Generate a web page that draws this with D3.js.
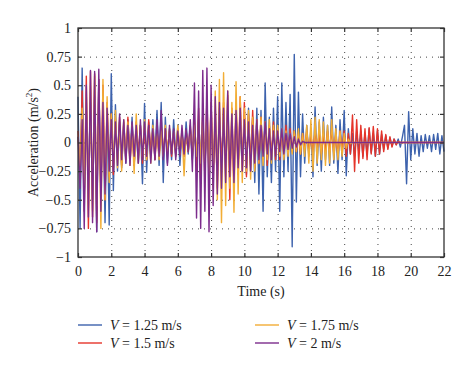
<!DOCTYPE html>
<html>
<head>
<meta charset="utf-8">
<script src="https://cdn.jsdelivr.net/npm/d3@7"></script>
<style>
  body { margin: 0; background: #fff; }
  svg { display: block; }
</style>
</head>
<body>
<div id="chart"></div>
<script>
'use strict';

// sample spacing of every series (s); series keep at 0 until tEnd
const step = 0.125;
const tEnd = 22;

const xTicks = [0, 2, 4, 6, 8, 10, 12, 14, 16, 18, 20, 22];
const yTicks = [-1, -0.75, -0.5, -0.25, 0, 0.25, 0.5, 0.75, 1];
const yTickLabels = ['\u22121', '\u22120.75', '\u22120.5', '\u22120.25', '0', '0.25', '0.5', '0.75', '1'];

const speeds = ['1.25', '1.5', '1.75', '2'];
const colors = ['#3d62ad', '#e5342a', '#f2ad35', '#7c2c8c'];

// one line per second (8 samples)
const v125 = [
    0.40, -0.75, 0.65, -0.45, 0.25, -0.30, 0.35, -0.50,
    0.40, -0.78, 0.55, -0.40, 0.35, -0.70, 0.30, -0.72,
    0.60, -0.42, 0.33, -0.25, 0.18, -0.22, 0.15, -0.18,
    0.20, -0.15, 0.22, -0.20, 0.12, -0.18, 0.15, -0.36,
    0.34, -0.26, 0.18, -0.12, 0.20, -0.15, 0.28, -0.20,
    0.35, -0.35, 0.22, -0.18, 0.12, -0.15, 0.20, -0.12,
    0.15, -0.20, 0.10, -0.12, 0.18, -0.10, 0.12, -0.15,
    0.10, -0.14, 0.20, -0.15, 0.12, -0.18, 0.10, -0.12,
    0.15, -0.12, 0.10, -0.18, 0.22, -0.15, 0.12, -0.20,
    0.18, -0.25, 0.15, -0.20, 0.25, -0.18, 0.12, -0.22,
    0.20, -0.28, 0.30, -0.25, 0.22, -0.35, 0.30, -0.45,
    0.28, -0.60, 0.52, -0.30, 0.22, -0.35, 0.30, -0.25,
    0.40, -0.60, 0.52, -0.30, 0.35, -0.25, 0.42, -0.91,
    0.77, -0.52, 0.44, -0.30, 0.25, -0.18, 0.15, -0.12,
    0.12, -0.30, 0.31, -0.20, 0.18, -0.25, 0.22, -0.15,
    0.15, -0.20, 0.31, -0.18, 0.15, -0.27, 0.20, -0.15,
    0.28, -0.29, 0.12, -0.10, 0.08, -0.12, 0.10, -0.08,
    0.10, -0.12, 0.08, -0.10, 0.12, -0.09, 0.08, -0.12,
    0.10, -0.10, 0.07, -0.06, 0.06, -0.05, 0.04, -0.03,
    0.03, -0.02, 0.03, -0.04, 0.05, 0.15, -0.36, 0.27,
    -0.15, 0.12, -0.10, 0.08, -0.12, 0.06, -0.08, 0.07,
    -0.05, 0.06, -0.08, 0.07, -0.06, 0.08, -0.10, 0.06,
    -0.08
];

const v150 = [
    0.10, -0.30, 0.45, -0.60, 0.58, -0.75, 0.62, -0.65,
    0.60, -0.70, 0.55, -0.45, 0.50, -0.50, 0.35, -0.30,
    0.25, -0.28, 0.20, -0.15, 0.22, -0.20, 0.18, -0.15,
    0.22, -0.18, 0.15, -0.20, 0.18, -0.12, 0.15, -0.18,
    0.12, -0.15, 0.20, -0.10, 0.12, -0.15, 0.10, -0.12,
    0.15, -0.10, 0.12, -0.08, 0.10, -0.12, 0.08, -0.10,
    0.12, -0.10, 0.08, -0.12, 0.10, -0.08, 0.15, -0.12,
    0.20, -0.25, 0.30, -0.35, 0.25, -0.30, 0.40, -0.35,
    0.35, -0.30, 0.25, -0.40, 0.30, -0.25, 0.35, -0.30,
    0.41, -0.50, 0.30, -0.40, 0.35, -0.28, 0.40, -0.25,
    0.35, -0.30, 0.25, -0.20, 0.28, -0.22, 0.20, -0.18,
    0.22, -0.15, 0.18, -0.20, 0.15, -0.12, 0.18, -0.15,
    0.12, -0.15, 0.10, -0.12, 0.15, -0.10, 0.12, -0.08,
    0.10, -0.08, 0.06, -0.10, 0.08, -0.06, 0.10, -0.08,
    0.06, -0.08, 0.10, -0.06, 0.08, -0.10, 0.06, -0.08,
    0.10, -0.08, 0.12, -0.10, 0.08, -0.12, 0.10, -0.08,
    0.10, -0.12, 0.08, -0.10, 0.24, -0.25, 0.20, -0.18,
    0.15, -0.14, 0.12, -0.15, 0.13, -0.10, 0.14, -0.12,
    0.12, -0.10, 0.10, -0.08, 0.07, -0.06, 0.05, -0.04,
    0.03, -0.02, 0.01, 0
];

const v175 = [
    0.05, -0.20, 0.30, -0.45, 0.40, -0.55, 0.50, -0.60,
    0.58, -0.55, 0.45, -0.75, 0.55, -0.50, 0.40, -0.35,
    0.25, -0.20, 0.28, -0.22, 0.18, -0.25, 0.20, -0.15,
    0.18, -0.20, 0.15, -0.27, 0.25, -0.18, 0.15, -0.12,
    0.20, -0.15, 0.12, -0.18, 0.15, -0.10, 0.12, -0.15,
    0.10, -0.12, 0.15, -0.10, 0.12, -0.08, 0.10, -0.12,
    0.15, -0.10, 0.12, -0.29, 0.10, -0.08, 0.12, -0.10,
    0.15, -0.12, 0.20, -0.18, 0.25, -0.22, 0.30, -0.28,
    0.35, -0.40, 0.45, -0.50, 0.55, -0.70, 0.61, -0.55,
    0.45, -0.40, 0.35, -0.61, 0.53, -0.45, 0.40, -0.35,
    0.30, -0.25, 0.28, -0.32, 0.22, -0.25, 0.20, -0.18,
    0.22, -0.20, 0.18, -0.15, 0.20, -0.18, 0.15, -0.12,
    0.15, -0.12, 0.12, -0.15, 0.10, -0.12, 0.08, -0.10,
    0.10, -0.08, 0.12, -0.10, 0.08, -0.12, 0.15, -0.18,
    0.20, -0.25, 0.22, -0.18, 0.20, -0.15, 0.18, -0.20,
    0.15, -0.18, 0.20, -0.15, 0.12, -0.15, 0.10, -0.12,
    0.08, -0.05, 0.03, -0.01, 0
];

const v200 = [
    0.05, -0.40, 0.20, -0.75, 0.50, -0.65, 0.63, -0.70,
    0.62, -0.78, 0.64, -0.60, 0.35, -0.45, 0.30, -0.25,
    0.20, -0.25, 0.18, -0.20, 0.25, -0.15, 0.20, -0.18,
    0.15, -0.20, 0.18, -0.12, 0.15, -0.18, 0.20, -0.15,
    0.18, -0.12, 0.15, -0.18, 0.12, -0.15, 0.20, -0.12,
    0.28, -0.15, 0.12, -0.20, 0.15, -0.10, 0.12, -0.15,
    0.10, -0.12, 0.15, -0.10, 0.12, -0.08, 0.20, -0.25,
    0.52, -0.66, 0.45, -0.75, 0.63, -0.60, 0.65, -0.78,
    0.50, -0.55, 0.40, -0.45, 0.35, -0.40, 0.30, -0.35,
    0.45, -0.30, 0.25, -0.35, 0.28, -0.22, 0.30, -0.25,
    0.20, -0.22, 0.18, -0.25, 0.15, -0.18, 0.20, -0.15,
    0.15, -0.12, 0.18, -0.10, 0.12, -0.15, 0.10, -0.12,
    0.10, -0.08, 0.12, -0.10, 0.08, -0.06, 0.08, -0.05,
    0.05, -0.04, 0.03, -0.02, 0.01, 0
];

const series = [v125, v150, v175, v200];

const width = 474;
const height = 370;
const margin = {top: 28, right: 30, bottom: 113, left: 78};

const svg = d3.select('#chart')
      .append('svg')
      .attr('width', width)
      .attr('height', height);

const x = d3.scaleLinear()
      .domain([0, 22])
      .range([margin.left, width - margin.right]);
const y = d3.scaleLinear()
      .domain([-1, 1])
      .range([height - margin.bottom, margin.top]);

const font = 'Liberation Serif, Times New Roman, serif';

// dotted grid
const grid = svg.append('g')
      .attr('stroke', '#444')
      .attr('stroke-width', 1)
      .attr('stroke-dasharray', '1,5');

grid.selectAll('line.gx')
    .data(xTicks.slice(1, -1))
    .join('line')
    .attr('class', 'gx')
    .attr('x1', d => x(d) + 0.5)
    .attr('x2', d => x(d) + 0.5)
    .attr('y1', y(1))
    .attr('y2', y(-1));

grid.selectAll('line.gy')
    .data(yTicks.slice(1, -1))
    .join('line')
    .attr('class', 'gy')
    .attr('y1', d => y(d) + 0.5)
    .attr('y2', d => y(d) + 0.5)
    .attr('x1', x(0))
    .attr('x2', x(22));

// signals, drawn in legend order so purple sits on top
const line = d3.line()
      .x(d => x(d[0]))
      .y(d => y(d[1]));

const plot = svg.append('g')
      .attr('fill', 'none')
      .attr('stroke-width', 1.4)
      .attr('stroke-linejoin', 'round');

series.forEach((values, k) => {
    const points = values.map((v, i) => [i * step, v]);
    const last = points[points.length - 1];
    if (last[0] < tEnd) points.push([tEnd, 0]);
    plot.append('path')
        .datum(points)
        .attr('stroke', colors[k])
        .attr('d', line);
});

// frame and axes, ticks pointing inward
svg.append('rect')
    .attr('x', x(0))
    .attr('y', y(1))
    .attr('width', x(22) - x(0))
    .attr('height', y(-1) - y(1))
    .attr('fill', 'none')
    .attr('stroke', '#333')
    .attr('stroke-width', 1.3);

const styleAxis = g => {
    g.select('.domain').remove();
    g.selectAll('.tick line').attr('stroke', '#333').attr('stroke-width', 1.2);
    g.selectAll('.tick text').attr('fill', '#222').style('font', '14px ' + font);
};

svg.append('g')
    .attr('transform', `translate(0,${y(-1)})`)
    .call(d3.axisBottom(x).tickValues(xTicks).tickSizeInner(-4).tickSizeOuter(0).tickPadding(9))
    .call(styleAxis);

svg.append('g')
    .attr('transform', `translate(0,${y(1)})`)
    .call(d3.axisTop(x).tickValues(xTicks).tickSizeInner(-4).tickSizeOuter(0).tickFormat(''))
    .call(styleAxis);

svg.append('g')
    .attr('transform', `translate(${x(0)},0)`)
    .call(d3.axisLeft(y).tickValues(yTicks).tickSizeInner(-4).tickSizeOuter(0).tickPadding(7)
          .tickFormat((d, i) => yTickLabels[i]))
    .call(styleAxis);

svg.append('g')
    .attr('transform', `translate(${x(22)},0)`)
    .call(d3.axisRight(y).tickValues(yTicks).tickSizeInner(-4).tickSizeOuter(0).tickFormat(''))
    .call(styleAxis);

// axis titles
svg.append('text')
    .attr('x', (x(0) + x(22)) / 2)
    .attr('y', 296)
    .attr('text-anchor', 'middle')
    .attr('fill', '#222')
    .style('font', '14px ' + font)
    .text('Time (s)');

const ylab = svg.append('text')
      .attr('transform', `translate(38,${(y(1) + y(-1)) / 2}) rotate(-90)`)
      .attr('text-anchor', 'middle')
      .attr('fill', '#222')
      .style('font', '14px ' + font);
ylab.append('tspan').text('Acceleration (m/s');
ylab.append('tspan').attr('font-size', '9px').attr('dy', -6).text('2');
ylab.append('tspan').attr('dy', 6).text(')');

// legend, two columns
const legend = svg.append('g')
      .selectAll('g')
      .data(speeds)
      .join('g')
      .attr('transform', (d, i) => `translate(${i < 2 ? 78 : 255},${i % 2 ? 343 : 325})`);

legend.append('line')
    .attr('x1', 0)
    .attr('x2', 24)
    .attr('stroke', (d, i) => colors[i])
    .attr('stroke-width', 1.4);

const ltext = legend.append('text')
      .attr('x', 32)
      .attr('dy', '0.35em')
      .attr('fill', '#222')
      .style('font', '14px ' + font);
ltext.append('tspan').attr('font-style', 'italic').text('V');
ltext.append('tspan').text(d => ' = ' + d + ' m/s');
</script>
</body>
</html>
